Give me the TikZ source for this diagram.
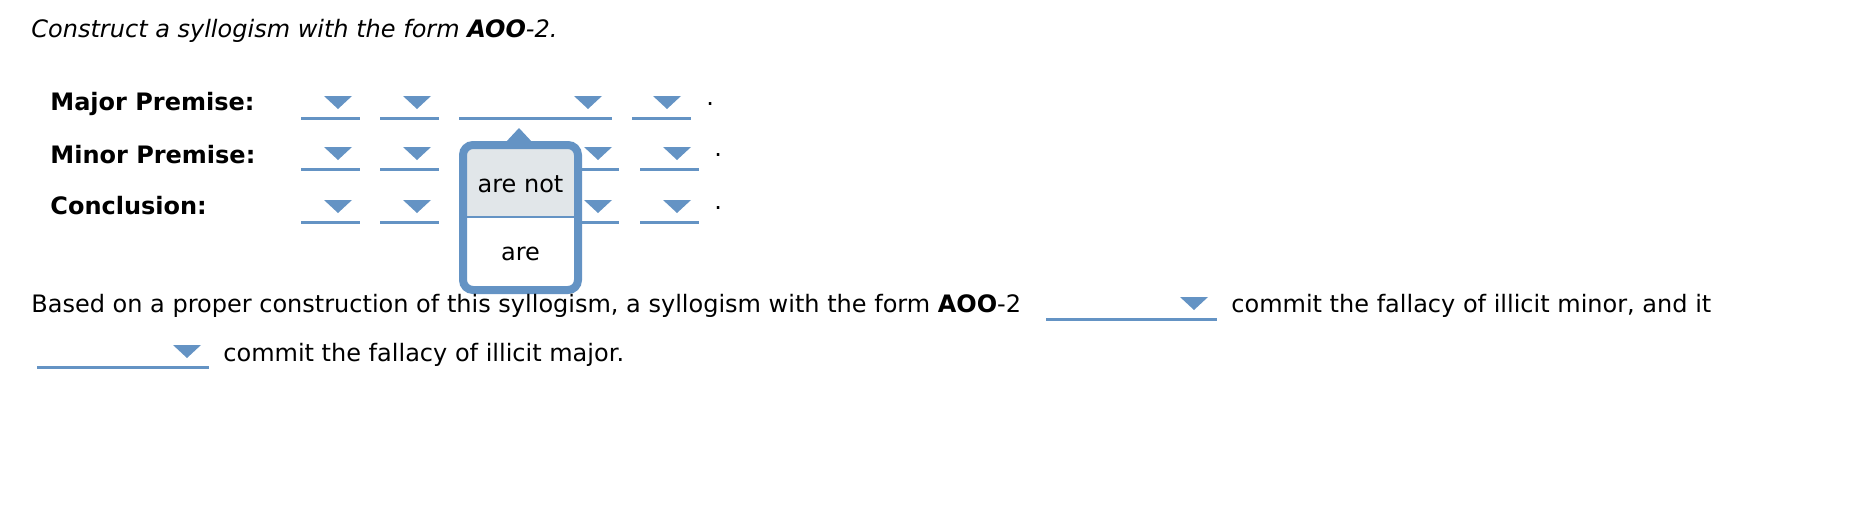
\documentclass[tikz,border=0pt]{standalone}
\usepackage{fontspec}
\setmainfont{DejaVu Sans}
\definecolor{ddblue}{HTML}{6493C4}
\definecolor{selgray}{HTML}{E1E6E9}
\newcommand{\ddbox}[4]{% x1 x2 triangle-x underline-y
  \draw[ddline] (#1,#4) -- (#2,#4);
  \fill[ddblue] (#3-14,#4-22) -- (#3+14,#4-22) -- (#3,#4-9) -- cycle;}
\begin{document}
\begin{tikzpicture}[x=0.5pt,y=-0.5pt,
  txt/.style={anchor=west,inner sep=0pt,font=\fontsize{12}{14}\selectfont},
  ddline/.style={draw=ddblue,line width=1.5pt}]
\useasboundingbox (0,0) rectangle (1872,510);
\node[txt] (title) at (31,31) {\itshape Construct a syllogism with the form \textbf{AOO}-2.};
\node[txt] (maj) at (50,104) {\bfseries Major Premise:};
\node[txt] (min) at (50,155) {\bfseries Minor Premise:};
\node[txt] (con) at (50,206) {\bfseries Conclusion:};
% row 1
\ddbox{301}{360}{338}{118}
\ddbox{380}{439}{417}{118}
\ddbox{459}{612}{588}{118}
\ddbox{632}{691}{667}{118}
\node[txt] (d1) at (706,104) {.};
% rows 2,3
\foreach \y/\d in {169/d2,222/d3}{
  \ddbox{301}{360}{338}{\y}
  \ddbox{380}{439}{417}{\y}
  \ddbox{470}{619}{598}{\y}
  \ddbox{640}{699}{677}{\y}
  \node[txt] (\d) at (714,\y-14) {.};
}
% popup
\fill[ddblue] (505,143) -- (533,143) -- (519,128) -- cycle;
\fill[white] (463,145) rectangle (578,290);
\fill[selgray] (463,145) rectangle (578,217);
\draw[ddblue,line width=1pt] (463,217) -- (578,217);
\draw[ddblue,line width=4pt,rounded corners=5pt] (463,145) rectangle (578,290);
\node[txt,anchor=center] (opt1) at (520.5,184) {are not};
\node[txt,anchor=center] (opt2) at (520.5,254) {are};
% sentence
\node[txt] (s1) at (31,306) {Based on a proper construction of this syllogism, a syllogism with the form \textbf{AOO}-2};
\ddbox{1046}{1217}{1194}{319}
\node[txt] (s2) at (1231,306) {commit the fallacy of illicit minor, and it};
\ddbox{37}{209}{187}{367}
\node[txt] (s3) at (223,355) {commit the fallacy of illicit major.};
\end{tikzpicture}
\end{document}
